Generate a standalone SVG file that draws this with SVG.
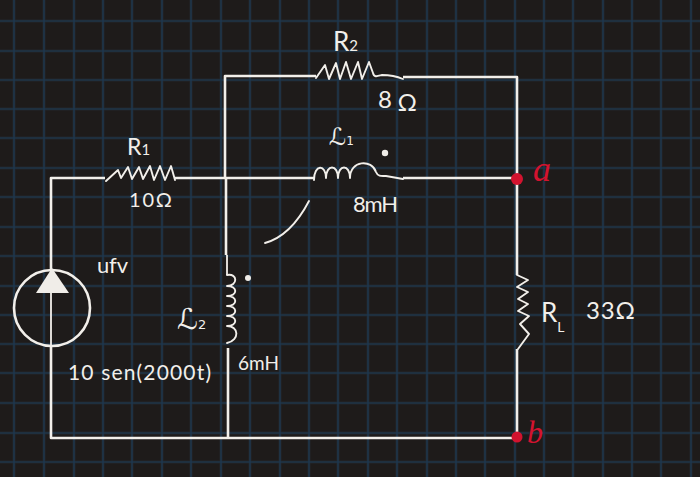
<svg xmlns="http://www.w3.org/2000/svg" width="700" height="477" viewBox="0 0 700 477">
<style>
.w{fill:none;stroke:#f2efea;stroke-width:2.6;stroke-linejoin:round}
.h{fill:none;stroke:#f2efea;stroke-width:1.9;stroke-linecap:round;stroke-linejoin:round}
.g{fill:none;stroke:#1d3a54;stroke-width:1.2}
.gh{fill:none;stroke:#2b3540;stroke-width:3;opacity:.45}
.f{fill:#f0ede8}
.red{fill:#d3132f}
text{fill:#f2efea;font-family:"Lato","Noto Sans",sans-serif;font-weight:400}
.s{font-family:"DejaVu Sans",sans-serif}
.rt{fill:#d3132f;font-family:"Liberation Serif",serif;font-style:italic}
</style>
<defs>
<path id="vl" d="M14 0V477M44 0V477M74 0V477M103 0V477M132 0V477M162 0V477M191 0V477M221 0V477M250 0V477M280 0V477M309 0V477M338 0V477M368 0V477M397 0V477M427 0V477M456 0V477M485 0V477M515 0V477M544 0V477M573 0V477M603 0V477M632 0V477M661 0V477M691 0V477M0 21H700M0 51H700M0 80H700M0 109H700M0 138H700M0 168H700M0 197H700M0 227H700M0 256H700M0 286H700M0 315H700M0 344H700M0 373H700M0 403H700M0 433H700M0 462H700"/>
</defs>
<rect width="700" height="477" fill="#1e1b1a"/>
<g id="grid">
<use href="#vl" class="gh"/>
<use href="#vl" class="g"/>
</g>
<g id="connectors">
<path class="w" d="M105 178H51V270M51 346V438H517V349M517 178V275M225 178V76H316M403 77H517V178M175 178H314M403 178H517M226 178V255M228 348V438"/>
<path class="w" style="stroke-width:1.8" d="M51 346V290M227 255V275"/>
<path class="h" d="M309 201C298 222 283 238 265 243"/>
</g>
<g id="source">
<circle class="w" cx="52" cy="308" r="38"/>
<path class="f" d="M52 268L69 293H36Z"/>
<text x="97" y="273" font-size="22" textLength="31">ufv</text>
<text x="68" y="380" font-size="21" textLength="143">10 sen(2000t)</text>
</g>
<g id="R1">
<path class="h" d="M106 181L118 170L121 178L128 167L132 179L139 167L143 179L150 166L154 180L160 166L165 180L171 166L175 180"/>
<text x="127" y="155" font-size="23">R<tspan font-size="15">1</tspan></text>
<text x="129" y="207" font-size="20" textLength="43">10Ω</text>
</g>
<g id="R2">
<path class="h" d="M316 78L325 65L329 79L336 63L340 79L346 62L351 79L358 62L362 79L369 62L373 73C374 78 378 76 382 75C390 75 396 76 403 79"/>
<text x="333" y="51" font-size="26">R<tspan font-size="15">2</tspan></text>
<text x="378" y="108" font-size="24" textLength="39">8 <tspan dy="3">Ω</tspan></text>
</g>
<g id="L1">
<path class="h" d="M314 180C314 164 326 164 326 178C326 164 338 164 338 178C338 164 350 164 350 178C350 160 372 159 376 172C378 177 382 176 386 176L403 179"/>
<circle class="f" cx="385" cy="153" r="3.2"/>
<text class="s" x="329" y="145" font-size="24">ℒ<tspan font-size="12">1</tspan></text>
<text x="353" y="212" font-size="22" textLength="45">8mH</text>
</g>
<g id="L2">
<path class="h" d="M227 275C238 273 238 286 227 286C238 286 238 296 227 296C238 296 238 306 227 306C238 306 238 316 227 316C238 316 238 326 227 326C239 326 240 340 227 343"/>
<circle class="f" cx="248" cy="278" r="3"/>
<text class="s" x="177" y="329" font-size="29">ℒ<tspan font-size="13">2</tspan></text>
<text x="238" y="370" font-size="19">6mH</text>
</g>
<g id="RL">
<path class="h" d="M517 275L528 280L517 287L528 292L518 299L528 304L518 311L529 316L520 324L529 334L518 349"/>
<text x="541" y="322" font-size="26">R<tspan font-size="14" dy="10">L</tspan></text>
<text x="586" y="319" font-size="24" textLength="49">33Ω</text>
</g>
<g id="nodes">
<circle class="red" cx="517" cy="179" r="6"/>
<circle class="red" cx="517" cy="437" r="5.5"/>
<text class="rt" x="533" y="181" font-size="36">a</text>
<text class="rt" x="527" y="443" font-size="32">b</text>
</g>
</svg>
